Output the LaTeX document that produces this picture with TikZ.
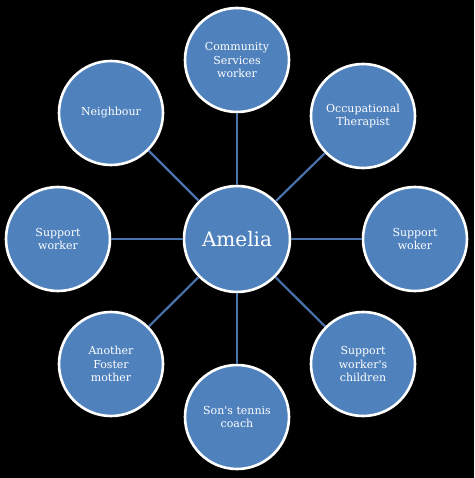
\documentclass[tikz,border=0pt]{standalone}
\usepackage{fontspec}
\setmainfont{DejaVu Serif}
\usepackage{xcolor}
\usepackage{tikz}
\usetikzlibrary{
  positioning,
  calc
}
\definecolor{nodeblue}{RGB}{79,129,189}
\definecolor{linkblue}{RGB}{74,114,172}
\tikzset{
  person/.style={circle, draw=white, line width=2.6pt, fill=nodeblue,
    minimum size=104pt, inner sep=0pt, text=white, align=center,
    font=\fontsize{11}{13.4}\selectfont},
  hub/.style={person, minimum size=106pt, font=\fontsize{20}{24}\selectfont},
  link/.style={draw=linkblue, line width=2.2pt}
}

\begin{document}
\begin{tikzpicture}[x=1pt, y=-1pt]
  % black background
  \fill[black] (0,0) rectangle (474,478);
  \useasboundingbox (0,0) rectangle (474,478);
  % centre
  \node[hub] (amelia) at (237,239) {Amelia};
  % people round her
  \node[person] (community) at (237,60)   {Community\\Services\\worker};
  \node[person] (occupational) at (363,116) {Occupational\\Therapist};
  \node[person] (woker) at (415,239)      {Support\\woker};
  \node[person] (children) at (363,364)   {Support\\worker\textquotesingle s\\children};
  \node[person] (coach) at (237,417)      {Son\textquotesingle s tennis\\coach};
  \node[person] (foster) at (111,364)     {Another\\Foster\\mother};
  \node[person] (worker) at (58,239)      {Support\\worker};
  \node[person] (neighbour) at (111,113)  {Neighbour};
  % links to the centre
  \foreach \p in {community,occupational,woker,children,coach,foster,worker,neighbour}{
    \draw[link] (amelia) -- (\p);
  }
\end{tikzpicture}
\end{document}
